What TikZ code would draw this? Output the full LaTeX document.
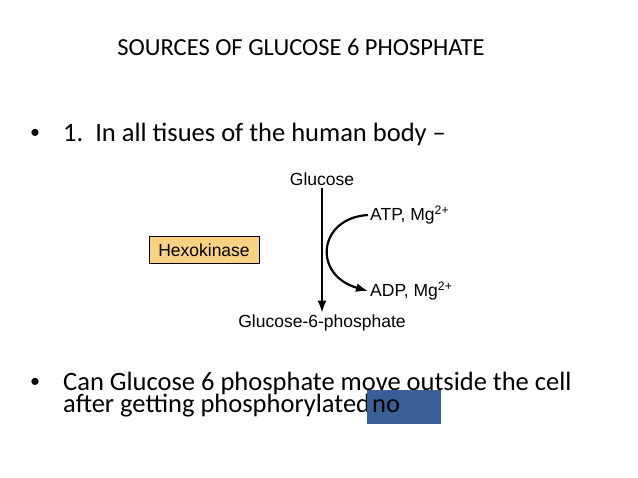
\documentclass[tikz,border=0pt]{standalone}
\usepackage{fontspec}
\setmainfont{Carlito}
\newfontfamily\figfont{Liberation Sans}
\usetikzlibrary{arrows.meta}
\begin{document}
\begin{tikzpicture}[
      x=1pt, y=-1pt,
      slide/.style={font=\fontsize{26.5}{30}\selectfont, anchor=west, inner sep=0pt},
      dot/.style={font=\fontsize{20}{24}\selectfont, anchor=west, inner sep=0pt},
      fig/.style={font=\figfont\fontsize{17.5}{20}\selectfont, inner sep=2pt},
      rxn/.style={line width=2.2pt,-{Latex[length=12pt,width=9pt]}}
    ]
    \useasboundingbox[fill=white] (0,0) rectangle (638,478);
    % title and bullets
    \node[font=\fontsize{24.5}{28}\selectfont] (title) at (301,47) {SOURCES OF GLUCOSE 6 PHOSPHATE};
    \node[dot] (d1) at (30,134) {\textbullet};
    \node[slide] (b1) at (63,134) {1.\ \ In all tisues of the human body --};
    \node[dot] (d2) at (30,383) {\textbullet};
    \node[slide] (b2) at (63,383) {Can Glucose 6 phosphate move outside the cell};
    \node[slide] (b3) at (63,406) {after getting phosphorylated};
    \fill[fill={rgb,255:red,58;green,95;blue,150}] (367,390) rectangle (441,424);
    \node[slide] (no) at (372,406) {no};
    % reaction scheme
    \node[fig] (glc) at (322,179) {Glucose};
    \node[fig] (g6p) at (322,323) {Glucose-6-phosphate};
    \node[fig, anchor=west] (atp) at (368,215) {ATP, Mg\textsuperscript{2+}};
    \node[fig, anchor=west] (adp) at (368,291) {ADP, Mg\textsuperscript{2+}};
    \node[fig, draw, fill={rgb,255:red,248;green,210;blue,131}, minimum width=110, minimum height=27] (hk) at (204,250) {Hexokinase};
    \draw[rxn] (glc) -- (g6p);
    \draw[rxn] (atp.west) .. controls (318,218) and (312,275) .. (adp.west);
\end{tikzpicture}
\end{document}
